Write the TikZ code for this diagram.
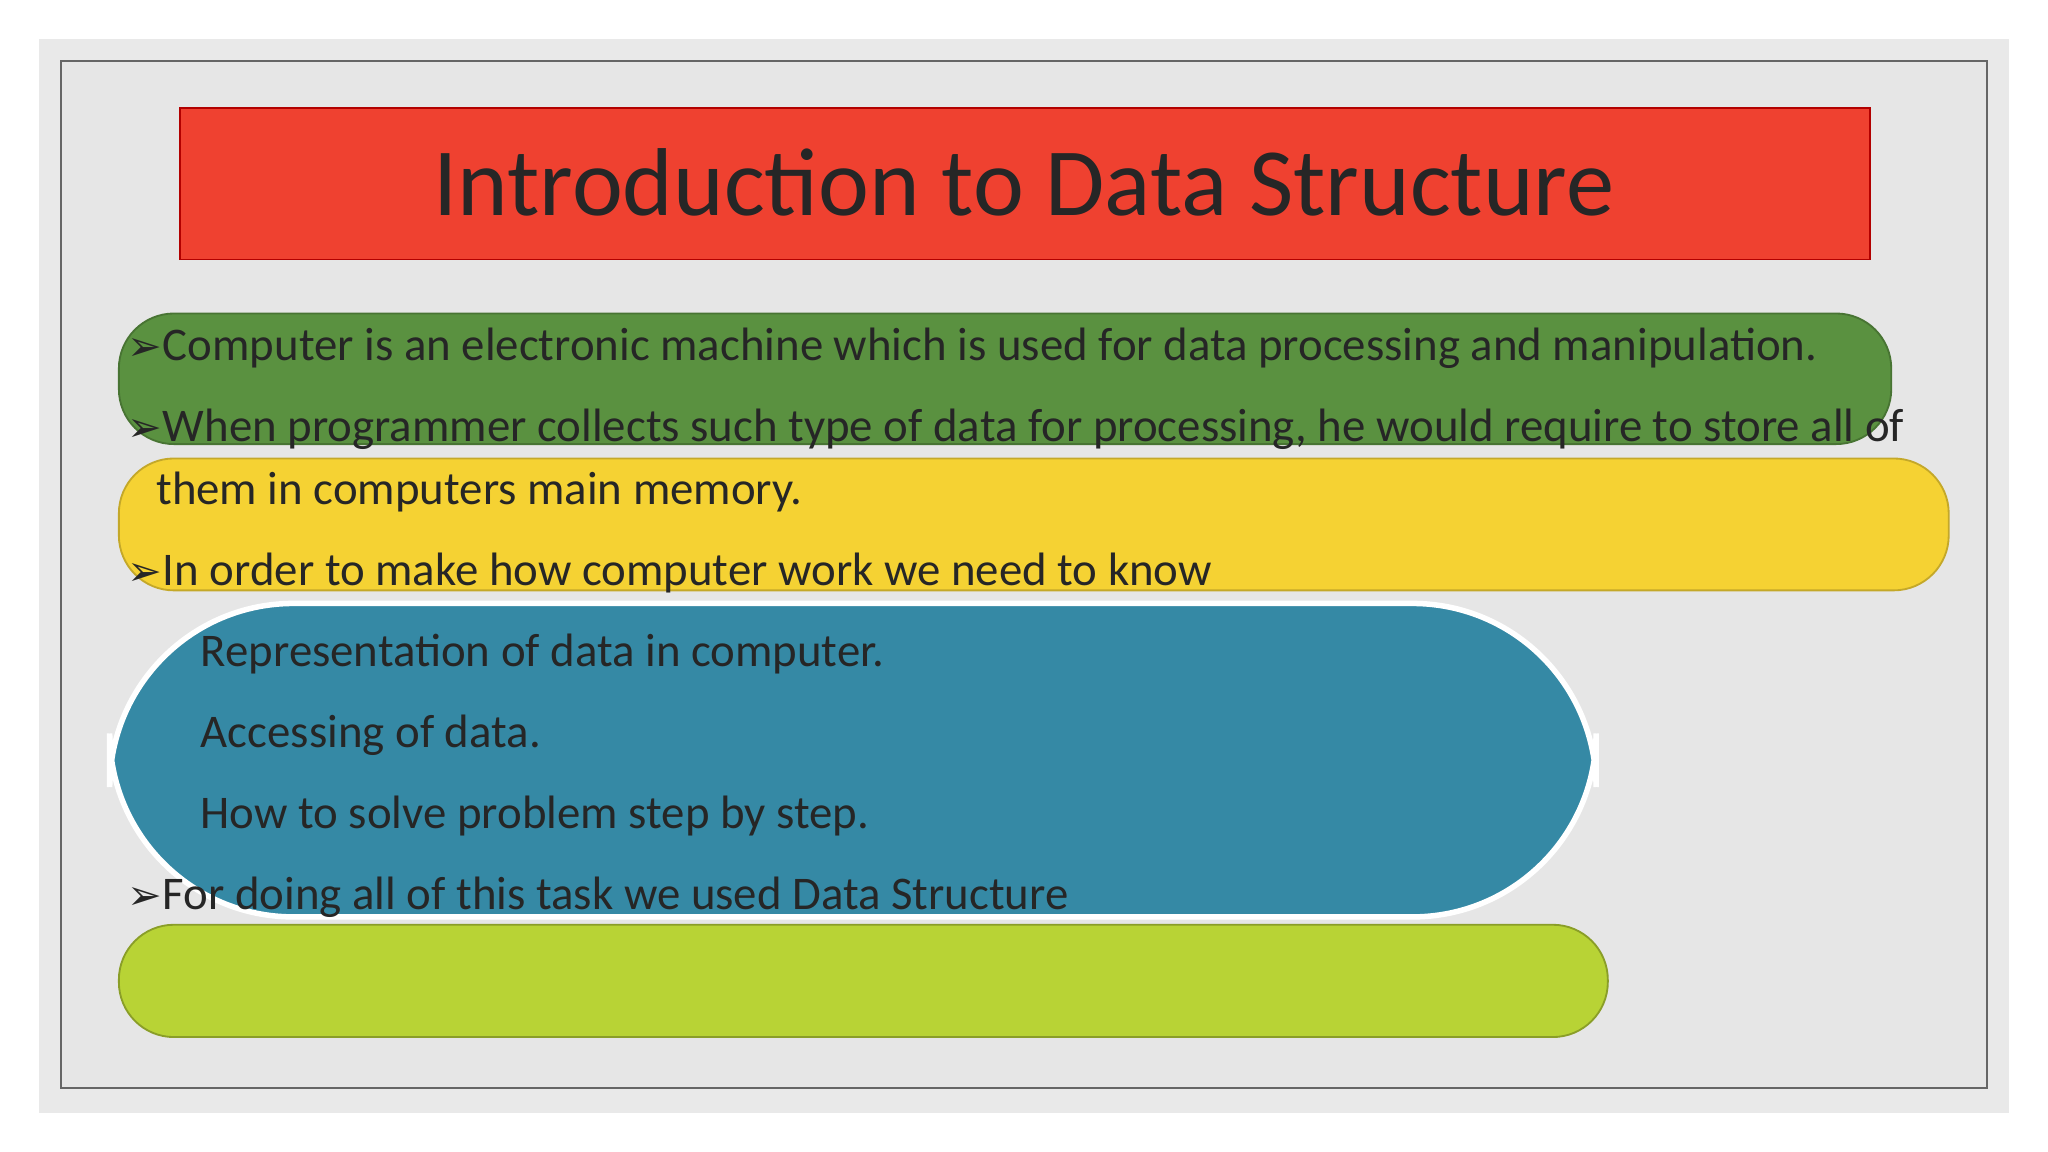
\documentclass[tikz,border=0pt]{standalone}
\usepackage{fontspec}
\setmainfont{Carlito}
\newfontfamily\dv{DejaVu Sans}
\definecolor{bgout}{HTML}{E9E9E9}
\definecolor{bgin}{HTML}{E6E6E6}
\definecolor{titlered}{HTML}{EF4130}
\definecolor{grn}{HTML}{5A9140}
\definecolor{yel}{HTML}{F5D233}
\definecolor{blu}{HTML}{3589A5}
\definecolor{lime}{HTML}{B8D335}
\tikzset{
  band/.style={rounded corners=12pt},
  txt/.style={anchor=base west,inner sep=0pt,font=\fontsize{10.2pt}{12pt}\selectfont,text=black!85},
  arr/.style={anchor=base west,inner sep=0pt,font=\dv\fontsize{9pt}{11pt}\selectfont,text=black!85}
}
\begin{document}
\begin{tikzpicture}[x=0.1mm,y=-0.1mm]
\useasboundingbox (0,0) rectangle (1568,882);
\fill[white] (0,0) rectangle (1568,882);
\fill[bgout] (30,30) rectangle (1538,852);
\draw[black!60,fill=bgin] (47,47) rectangle (1521,833);
\node[draw=red!70!black,fill=titlered,minimum width=129.4mm,minimum height=11.6mm,anchor=north west,inner sep=0pt] (title) at (137,82) {};
\node[font=\fontsize{21pt}{24pt}\selectfont,text=black!85] at (784,140) {Introduction to Data Structure};
\draw[band,fill=grn,draw=grn!80!black] (91,240) rectangle (1448,340);
\draw[band,fill=yel,draw=yel!80!black] (91,351) rectangle (1492,452);
\draw[rounded corners=40pt,fill=blu,draw=white,line width=1.2pt] (84,462) rectangle (1222,702);
\draw[band,fill=lime,draw=lime!75!black] (91,708) rectangle (1231,794);
\foreach \y in {276,338,448,696} \node[arr] at (97,\y) {➢};
\node[txt] at (124,276) {Computer is an electronic machine which is used for data processing and manipulation.};
\node[txt] at (124,338) {When programmer collects such type of data for processing, he would require to store all of};
\node[txt] at (119,386) {them in computers main memory.};
\node[txt] at (124,448) {In order to make how computer work we need to know};
\node[txt] at (153,510) {Representation of data in computer.};
\node[txt] at (153,572) {Accessing of data.};
\node[txt] at (153,634) {How to solve problem step by step.};
\node[txt] at (124,696) {For doing all of this task we used Data Structure};
\end{tikzpicture}
\end{document}
